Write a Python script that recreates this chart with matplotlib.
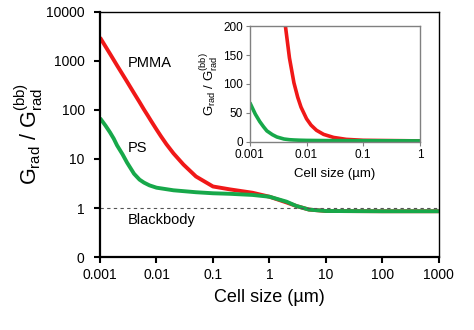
import matplotlib
matplotlib.use("Agg")
import matplotlib.pyplot as plt
from matplotlib.ticker import FixedLocator, FixedFormatter, NullLocator

plt.rcParams['font.family'] = ['Liberation Sans', 'DejaVu Sans']
plt.rcParams['mathtext.fontset'] = 'custom'
plt.rcParams['mathtext.rm'] = 'Liberation Sans'
plt.rcParams['mathtext.it'] = 'Liberation Sans:italic'

# cell size (um) and normalised radiative conductivity
pmma_size = [0.001, 0.0015, 0.002, 0.003, 0.004, 0.005, 0.006, 0.007, 0.008, 0.01,
             0.012, 0.015, 0.02, 0.03, 0.05, 0.1, 0.2, 0.5, 1, 2, 3, 5, 10, 100, 1000]
pmma = [3000, 1400, 810, 380, 220, 145, 102, 77, 60, 40,
        29, 20, 13, 7.7, 4.4, 2.75, 2.4, 2.05, 1.7, 1.3, 1.1, 0.93, 0.87, 0.86, 0.86]

ps_size = [0.001, 0.00125, 0.0015, 0.00175, 0.002, 0.0025, 0.003, 0.004, 0.005, 0.006,
           0.0075, 0.01, 0.0125, 0.02, 0.05, 0.1, 0.2, 0.5, 1, 2, 3, 5, 10, 100, 1000]
ps = [68, 48, 35, 26, 19, 12.5, 8.5, 5.0, 3.8, 3.3,
      2.9, 2.6, 2.5, 2.3, 2.1, 2.0, 1.95, 1.85, 1.7, 1.35, 1.1, 0.93, 0.87, 0.86, 0.86]

x_ticks = [0.001, 0.01, 0.1, 1, 10, 100, 1000]
x_labels = ['0.001', '0.01', '0.1', '1', '10', '100', '1000']
y_ticks = [0.1, 1, 10, 100, 1000, 10000]
y_labels = ['0', '1', '10', '100', '1000', '10000']

inset_x_ticks = [0.001, 0.01, 0.1, 1]
inset_x_labels = ['0.001', '0.01', '0.1', '1']
inset_y_ticks = [0, 50, 100, 150, 200]

red = '#f01818'
green = '#17a84a'
ylabel = r'$\mathrm{G_{rad}}$ / $\mathrm{G_{rad}^{(bb)}}$'

fig = plt.figure(figsize=(4.74, 3.30), dpi=100)
ax = fig.add_axes([0.211, 0.221, 0.715, 0.743])

ax.plot(pmma_size, pmma, color=red, lw=2.8, solid_capstyle='butt')
ax.plot(ps_size, ps, color=green, lw=2.8, solid_capstyle='butt')
ax.axhline(1, color='#555555', lw=0.8, ls=(0, (3, 3)))

ax.set_xscale('log')
ax.set_yscale('log')
ax.set_xlim(0.001, 1000)
ax.set_ylim(0.1, 10000)
ax.xaxis.set_major_locator(FixedLocator(x_ticks))
ax.xaxis.set_major_formatter(FixedFormatter(x_labels))
ax.xaxis.set_minor_locator(NullLocator())
ax.yaxis.set_major_locator(FixedLocator(y_ticks))
ax.yaxis.set_major_formatter(FixedFormatter(y_labels))
ax.yaxis.set_minor_locator(NullLocator())
ax.tick_params(direction='out', length=4, width=1.5, labelsize=10)
ax.tick_params(axis='y', pad=7)
ax.tick_params(axis='x', pad=4)
for side in ['left', 'bottom']:
    ax.spines[side].set_linewidth(1.6)
for side in ['top', 'right']:
    ax.spines[side].set_linewidth(1.0)

ax.set_xlabel('Cell size (µm)', fontsize=13, labelpad=5)
ax.set_ylabel(ylabel, fontsize=15.5, labelpad=1)

ax.text(0.0031, 900, 'PMMA', fontsize=10.5, va='center')
ax.text(0.0031, 17, 'PS', fontsize=10.5, va='center')
ax.text(0.0031, 0.56, 'Blackbody', fontsize=10.5, va='center')

# inset: linear view of the small cell sizes
ins = fig.add_axes([0.527, 0.570, 0.359, 0.351])
ins.plot(pmma_size, pmma, color=red, lw=2.6, solid_capstyle='butt')
ins.plot(ps_size, ps, color=green, lw=2.6, solid_capstyle='butt')
ins.set_xscale('log')
ins.set_xlim(0.001, 1)
ins.set_ylim(0, 200)
ins.xaxis.set_major_locator(FixedLocator(inset_x_ticks))
ins.xaxis.set_major_formatter(FixedFormatter(inset_x_labels))
ins.xaxis.set_minor_locator(NullLocator())
ins.yaxis.set_major_locator(FixedLocator(inset_y_ticks))
for sp in ins.spines.values():
    sp.set_color('#808080')
    sp.set_linewidth(1.0)
ins.tick_params(direction='out', length=3, width=0.8, color='#808080', labelsize=8.5, pad=2)
ins.set_xlabel('Cell size (µm)', fontsize=9.5, labelpad=5)
ins.set_ylabel(ylabel, fontsize=9.5, labelpad=2)

fig.savefig('out.png', dpi=100)
